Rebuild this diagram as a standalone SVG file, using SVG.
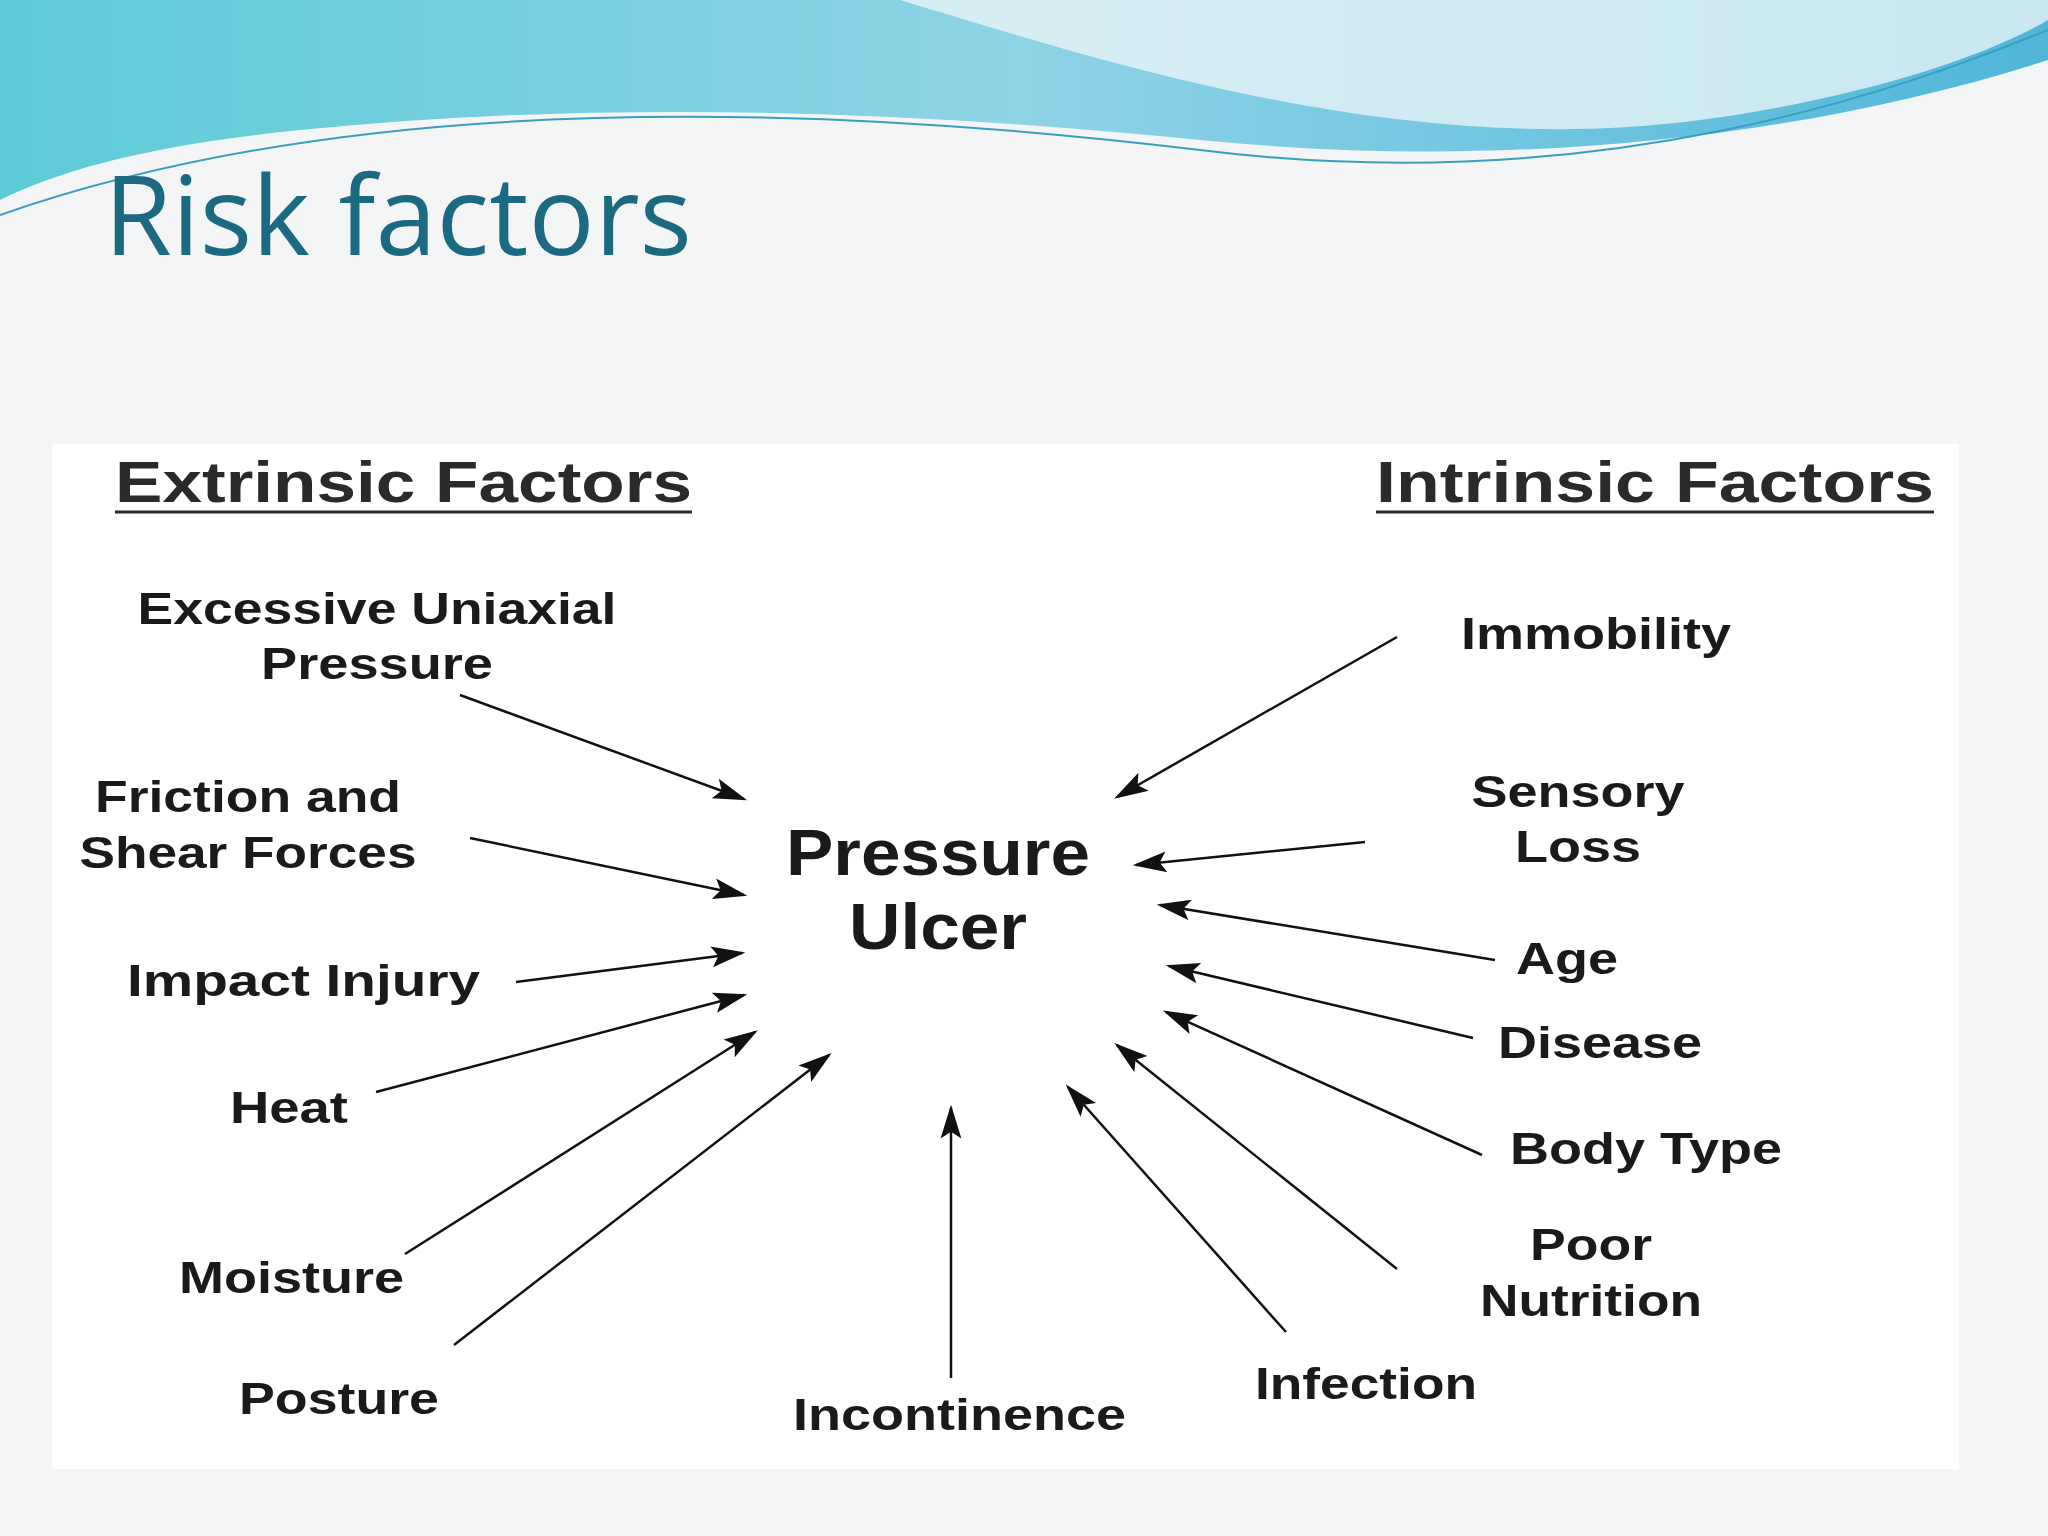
<svg xmlns="http://www.w3.org/2000/svg" width="2048" height="1536" viewBox="0 0 2048 1536">
<defs>
<linearGradient id="wave" x1="0" y1="0" x2="1" y2="0">
<stop offset="0" stop-color="#5ccbd6"/><stop offset="0.5" stop-color="#8fd3e6"/><stop offset="1" stop-color="#4fb6d8"/>
</linearGradient>
<marker id="ah" viewBox="0 0 10 10" refX="9" refY="5" markerWidth="34" markerHeight="26" orient="auto" markerUnits="userSpaceOnUse" preserveAspectRatio="none">
<path d="M0,1 L10,5 L0,9 L2,5 Z" fill="#111"/>
</marker>
<style>
.lbl{font-family:"Liberation Sans",Arial,sans-serif;font-weight:bold;font-size:44px;fill:#1a1a1a}
.hd{font-family:"Liberation Sans",Arial,sans-serif;font-weight:bold;font-size:58px;fill:#2a2a2a}
.big{font-family:"Liberation Sans",Arial,sans-serif;font-weight:bold;font-size:64px;fill:#1a1a1a}
.c{stroke:#111;stroke-width:2.5;fill:none;marker-end:url(#ah)}
</style>
</defs>
<rect width="2048" height="1536" fill="#f4f5f7"/>
<path d="M0,0 H2048 V60 C1800,140 1500,170 1200,140 C900,110 600,100 300,130 C150,145 60,170 0,200 Z" fill="url(#wave)"/>
<path d="M900,0 C1100,60 1400,160 1700,120 C1850,100 1980,60 2048,20 V0 Z" fill="#e8f4f8" opacity="0.8"/>
<path d="M0,215 C300,110 700,90 1200,150 C1600,200 1900,90 2048,30" stroke="#3a9fbf" stroke-width="2" fill="none"/>
<text x="104" y="255" font-family="'Open Sans','Liberation Sans',sans-serif" font-size="110" fill="#1b6a82">Risk factors</text>
<rect x="52" y="444" width="1907" height="1025" fill="#ffffff"/>
<g id="extrinsic"><text class="hd" x="115" y="502" textLength="577" lengthAdjust="spacingAndGlyphs">Extrinsic Factors</text><line x1="115" y1="512" x2="692" y2="512" stroke="#2a2a2a" stroke-width="3"/></g>
<g id="intrinsic"><text class="hd" x="1376" y="502" textLength="558" lengthAdjust="spacingAndGlyphs">Intrinsic Factors</text><line x1="1376" y1="512" x2="1934" y2="512" stroke="#2a2a2a" stroke-width="3"/></g>
<g id="ulcer"><text class="big" x="938" y="875" text-anchor="middle" textLength="304" lengthAdjust="spacingAndGlyphs">Pressure</text><text class="big" x="938" y="949" text-anchor="middle" textLength="178" lengthAdjust="spacingAndGlyphs">Ulcer</text></g>
<g id="n1"><text class="lbl" x="377" y="624" text-anchor="middle" textLength="479" lengthAdjust="spacingAndGlyphs">Excessive Uniaxial</text><text class="lbl" x="377" y="679" text-anchor="middle" textLength="232" lengthAdjust="spacingAndGlyphs">Pressure</text></g>
<g id="n2"><text class="lbl" x="248" y="812" text-anchor="middle" textLength="306" lengthAdjust="spacingAndGlyphs">Friction and</text><text class="lbl" x="248" y="868" text-anchor="middle" textLength="337" lengthAdjust="spacingAndGlyphs">Shear Forces</text></g>
<g id="n3"><text class="lbl" x="127" y="996" textLength="353" lengthAdjust="spacingAndGlyphs">Impact  Injury</text></g>
<g id="n4"><text class="lbl" x="230" y="1123" textLength="118" lengthAdjust="spacingAndGlyphs">Heat</text></g>
<g id="n5"><text class="lbl" x="179" y="1293" textLength="225" lengthAdjust="spacingAndGlyphs">Moisture</text></g>
<g id="n6"><text class="lbl" x="239" y="1414" textLength="200" lengthAdjust="spacingAndGlyphs">Posture</text></g>
<g id="n7"><text class="lbl" x="793" y="1430" textLength="333" lengthAdjust="spacingAndGlyphs">Incontinence</text></g>
<g id="n8"><text class="lbl" x="1255" y="1399" textLength="222" lengthAdjust="spacingAndGlyphs">Infection</text></g>
<g id="n9"><text class="lbl" x="1591" y="1260" text-anchor="middle" textLength="122" lengthAdjust="spacingAndGlyphs">Poor</text><text class="lbl" x="1591" y="1316" text-anchor="middle" textLength="222" lengthAdjust="spacingAndGlyphs">Nutrition</text></g>
<g id="n10"><text class="lbl" x="1510" y="1164" textLength="272" lengthAdjust="spacingAndGlyphs">Body Type</text></g>
<g id="n11"><text class="lbl" x="1498" y="1058" textLength="204" lengthAdjust="spacingAndGlyphs">Disease</text></g>
<g id="n12"><text class="lbl" x="1516" y="974" textLength="102" lengthAdjust="spacingAndGlyphs">Age</text></g>
<g id="n13"><text class="lbl" x="1578" y="807" text-anchor="middle" textLength="213" lengthAdjust="spacingAndGlyphs">Sensory</text><text class="lbl" x="1578" y="862" text-anchor="middle" textLength="126" lengthAdjust="spacingAndGlyphs">Loss</text></g>
<g id="n14"><text class="lbl" x="1461" y="649" textLength="270" lengthAdjust="spacingAndGlyphs">Immobility</text></g>
<g id="connectors">
<line class="c" x1="460" y1="695" x2="744" y2="799"/>
<line class="c" x1="470" y1="838" x2="744" y2="895"/>
<line class="c" x1="516" y1="982" x2="742" y2="953"/>
<line class="c" x1="376" y1="1092" x2="744" y2="995"/>
<line class="c" x1="405" y1="1254" x2="755" y2="1032"/>
<line class="c" x1="454" y1="1345" x2="829" y2="1055"/>
<line class="c" x1="951" y1="1378" x2="951" y2="1108"/>
<line class="c" x1="1286" y1="1332" x2="1068" y2="1087"/>
<line class="c" x1="1397" y1="1269" x2="1117" y2="1045"/>
<line class="c" x1="1482" y1="1155" x2="1166" y2="1012"/>
<line class="c" x1="1473" y1="1038" x2="1169" y2="966"/>
<line class="c" x1="1495" y1="960" x2="1160" y2="905"/>
<line class="c" x1="1365" y1="842" x2="1136" y2="865"/>
<line class="c" x1="1397" y1="637" x2="1117" y2="797"/>
</g>
</svg>
